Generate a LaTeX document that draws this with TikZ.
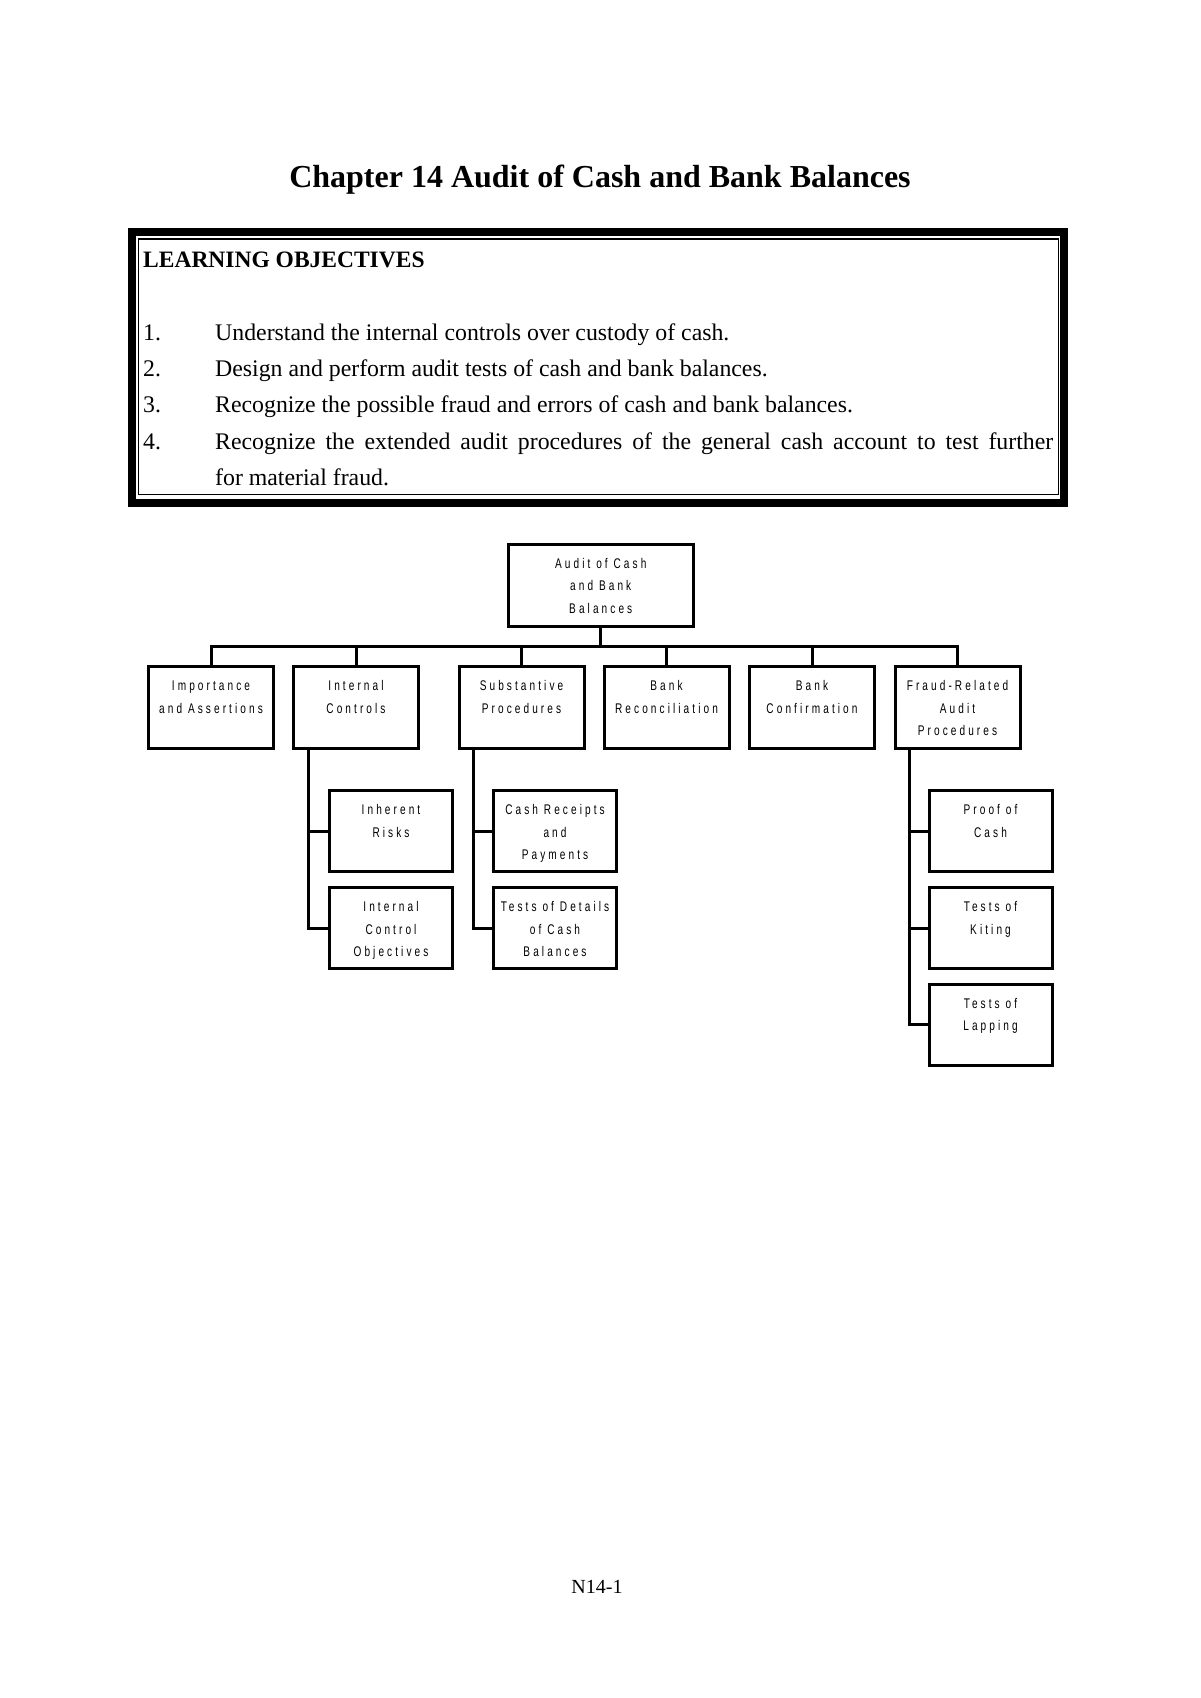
\documentclass[tikz,border=0pt]{standalone}
\usepackage{fontspec}
\setmainfont{Liberation Serif}
\newfontfamily\boxfont[FakeStretch=0.72,LetterSpace=22]{Liberation Sans}
\newcommand{\boxtext}[3]{\parbox[t][#1][t]{#2}{\centering\boxfont\fontsize{14}{22.5}\selectfont\rule{0pt}{24pt}#3\par}}
\begin{document}
\begin{tikzpicture}[x=1pt,y=-1pt,
  orgbox/.style={draw, line width=3pt, inner sep=0pt, outer sep=0pt},
  conn/.style={line width=3pt},
  txt/.style={anchor=base west, inner sep=0pt, font=\fontsize{23.8}{28}\selectfont}]
\useasboundingbox (0,0) rectangle (1200,1698);
% title
\node[anchor=base, inner sep=0pt, font=\fontsize{32}{38}\selectfont\bfseries] (title) at (600,187) {Chapter 14 Audit of Cash and Bank Balances};
% learning objectives frame
\draw[line width=8pt] (132,232) rectangle (1064,503);
\draw[line width=1.5pt] (138.5,239) rectangle (1058.5,494.5);
\node[txt, font=\fontsize{23.5}{28}\selectfont\bfseries] (lo) at (143,267) {LEARNING OBJECTIVES};
\node[txt] (n1) at (143,340) {1.};
\node[txt] (t1) at (215,340) {Understand the internal controls over custody of cash.};
\node[txt] (n2) at (143,376.3) {2.};
\node[txt] (t2) at (215,376.3) {Design and perform audit tests of cash and bank balances.};
\node[txt] (n3) at (143,412.6) {3.};
\node[txt] (t3) at (215,412.6) {Recognize the possible fraud and errors of cash and bank balances.};
\node[txt] (n4) at (143,449) {4.};
\node[txt] (t4) at (215,449) {\makebox[838pt][s]{Recognize the extended audit procedures of the general cash account to test further}};
\node[txt] (t5) at (215,485) {for material fraud.};
% org chart
\node[orgbox] (top) at (600.75,585.25) {\boxtext{82.5pt}{185.5pt}{Audit of Cash\\and Bank\\Balances}};
\node[orgbox] (b1) at (211,707.5) {\boxtext{82pt}{125pt}{Importance\\and Assertions}};
\node[orgbox] (b2) at (356,707.5) {\boxtext{82pt}{125pt}{Internal\\Controls}};
\node[orgbox] (b3) at (521.5,707.5) {\boxtext{82pt}{125pt}{Substantive\\Procedures}};
\node[orgbox] (b4) at (666.5,707.5) {\boxtext{82pt}{125pt}{Bank\\Reconciliation}};
\node[orgbox] (b5) at (812,707.5) {\boxtext{82pt}{125pt}{Bank\\Confirmation}};
\node[orgbox] (b6) at (957.5,707.5) {\boxtext{82pt}{125pt}{Fraud-Related\\Audit\\Procedures}};
\node[orgbox] (c21) at (391,831) {\boxtext{81pt}{123pt}{Inherent\\Risks}};
\node[orgbox] (c22) at (391,928) {\boxtext{81pt}{123pt}{Internal\\Control\\Objectives}};
\node[orgbox] (c31) at (555,831) {\boxtext{81pt}{123pt}{Cash Receipts\\and\\Payments}};
\node[orgbox] (c32) at (555,928) {\boxtext{81pt}{123pt}{Tests of Details\\of Cash\\Balances}};
\node[orgbox] (c61) at (990.5,831) {\boxtext{81pt}{123pt}{Proof of\\Cash}};
\node[orgbox] (c62) at (990.5,928) {\boxtext{81pt}{123pt}{Tests of\\Kiting}};
\node[orgbox] (c63) at (990.5,1024.5) {\boxtext{81pt}{123pt}{Tests of\\Lapping}};
% connectors
\coordinate (bus) at (0,646.7);
\draw[conn] (top.south) -- (top.south |- bus);
\draw[conn] (b1.north) -- (b1.north |- bus) -- (b6.north |- bus) -- (b6.north);
\foreach \b in {b2,b3,b4,b5} \draw[conn] (\b.north) -- (\b.north |- bus);
\coordinate (s2) at (308,0);
\coordinate (s3) at (473,0);
\coordinate (s6) at (909,0);
\draw[conn] (s2 |- b2.south) -- (s2 |- c22.west) -- (c22.west);
\draw[conn] (s2 |- c21.west) -- (c21.west);
\draw[conn] (s3 |- b3.south) -- (s3 |- c32.west) -- (c32.west);
\draw[conn] (s3 |- c31.west) -- (c31.west);
\draw[conn] (s6 |- b6.south) -- (s6 |- c63.west) -- (c63.west);
\draw[conn] (s6 |- c61.west) -- (c61.west);
\draw[conn] (s6 |- c62.west) -- (c62.west);
% page number
\node[anchor=base, inner sep=0pt, font=\fontsize{20}{24}\selectfont] (pg) at (597,1593) {N14-1};
\end{tikzpicture}
\end{document}
